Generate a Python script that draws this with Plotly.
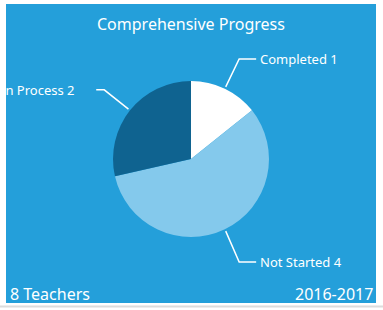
import math
import plotly.graph_objects as go

# ---- data ----
labels = ["Completed", "Not Started", "In Process"]
values = [1, 4, 2]
colors = ["#FFFFFF", "#84C9EC", "#0F6390"]
title_text = "Comprehensive Progress"
footer_left = "8 Teachers"
footer_right = "2016-2017"

# ---- layout constants (pixels) ----
W, H = 383, 310
BG = "#249FDA"
CX, CY, R = 191, 159, 78
FONT = "Noto Sans, Open Sans, sans-serif"


def px(x):
    return x / W


def py(y):
    return (H - y) / H


fig = go.Figure()
fig.add_trace(go.Pie(
    labels=labels, values=values, sort=False, direction="clockwise",
    rotation=0, marker=dict(colors=colors, line=dict(width=0)),
    textinfo="none", hoverinfo="skip", showlegend=False,
    domain=dict(x=[px(CX - R), px(CX + R)], y=[py(CY + R), py(CY - R)]),
))

shapes = [
    dict(type="rect", xref="paper", yref="paper", x0=px(6), x1=px(376),
         y0=py(303), y1=py(4), fillcolor=BG, line=dict(width=0), layer="below"),
    dict(type="line", xref="paper", yref="paper", x0=0, x1=1,
         y0=py(306.5), y1=py(306.5), line=dict(color="#DCDCDC", width=2), layer="below"),
]
annotations = [
    dict(text=title_text, x=px(191), y=py(24), xref="paper", yref="paper",
         showarrow=False, xanchor="center", yanchor="middle",
         font=dict(family=FONT, size=16, color="white")),
    dict(text=footer_left, x=px(8), y=py(294), xref="paper", yref="paper",
         showarrow=False, xanchor="left", yanchor="middle",
         font=dict(family=FONT, size=16, color="white")),
    dict(text=footer_right, x=px(375), y=py(294), xref="paper", yref="paper",
         showarrow=False, xanchor="right", yanchor="middle",
         font=dict(family=FONT, size=16, color="white")),
]

total = sum(values)
cum = 0
for lab, v in zip(labels, values):
    mid = (cum + v / 2) / total * 2 * math.pi
    cum += v
    s, c = math.sin(mid), math.cos(mid)
    rout = 111 if c < 0 or s < 0 else 111
    x1, y1 = CX + 80 * s, CY - 80 * c
    x2, y2 = CX + rout * s, CY - rout * c
    if c < 0:
        y2 += 3
    right = s >= 0
    x3 = x2 + (17 if right else -8)
    shapes.append(dict(
        type="path", xref="paper", yref="paper",
        path=f"M {px(x1)},{py(y1)} L {px(x2)},{py(y2)} L {px(x3)},{py(y2)}",
        line=dict(color="white", width=1.5)))
    annotations.append(dict(
        text=f"{lab} {v}", x=px(x3 + 2 if right else x3 - 19), y=py(y2),
        xref="paper", yref="paper", showarrow=False,
        xanchor="left" if right else "right", yanchor="middle",
        font=dict(family=FONT, size=13, color="white")))

fig.update_layout(
    width=W, height=H, margin=dict(l=0, r=0, t=0, b=0),
    paper_bgcolor="white", plot_bgcolor="white",
    shapes=shapes, annotations=annotations,
)
fig.write_html("out.html")
